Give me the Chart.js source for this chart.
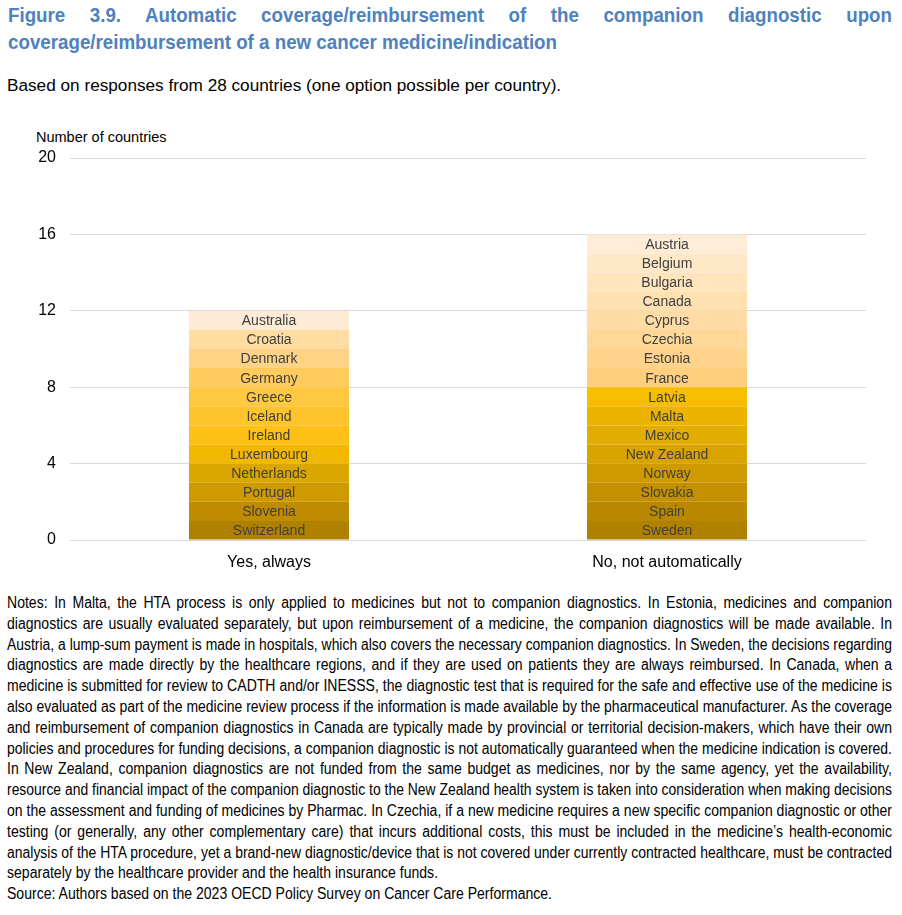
<!DOCTYPE html>
<html>
<head>
<meta charset="utf-8">
<script src="https://cdn.jsdelivr.net/npm/chart.js@4.4.0/dist/chart.umd.min.js"></script>
<style>
  body { margin: 0; background: #fff; width: 902px; height: 915px; position: relative; overflow: hidden; font-family: "Liberation Sans", Arial, sans-serif; }
  #title { position: absolute; left: 8px; top: 1px; color: #4f81bd; font-weight: bold; font-size: 21px; line-height: 27px; }
  #subtitle { position: absolute; left: 7px; top: 75px; font-size: 17.2px; color: #000; }
  #ytitle { position: absolute; left: 36px; top: 129px; font-size: 14.5px; color: #000; }
  #wrap { position: absolute; left: 0; top: 131px; width: 902px; height: 450px; }
  #notes { position: absolute; left: 7px; top: 593px; font-size: 15.6px; line-height: 20.8px; color: #000; }
  .ln { transform-origin: 0 0; white-space: normal; text-align: left; }
  .ln.j { text-align: justify; text-align-last: justify; }
  .probe { position: absolute; visibility: hidden; white-space: nowrap; }
</style>
</head>
<body>
<div id="title"></div>
<div id="subtitle">Based on responses from 28 countries (one option possible per country).</div>
<div id="ytitle">Number of countries</div>
<div id="wrap"><canvas id="chart"></canvas></div>
<div id="notes"></div>
<script>
// categories on the x axis
var categories = ["Yes, always", "No, not automatically"];

// countries per answer, listed bottom to top of the stack
var yesCountries = ["Switzerland", "Slovenia", "Portugal", "Netherlands", "Luxembourg", "Ireland", "Iceland", "Greece", "Germany", "Denmark", "Croatia", "Australia"];
var yesCounts = [1, 1, 1, 1, 1, 1, 1, 1, 1, 1, 1, 1];
var noCountries = ["Sweden", "Spain", "Slovakia", "Norway", "New Zealand", "Mexico", "Malta", "Latvia", "France", "Estonia", "Czechia", "Cyprus", "Canada", "Bulgaria", "Belgium", "Austria"];
var noCounts = [1, 1, 1, 1, 1, 1, 1, 1, 1, 1, 1, 1, 1, 1, 1, 1];

var yTicks = [0, 4, 8, 12, 16, 20];

var yesColors = ["#b08000", "#bf8c00", "#cf9a00", "#dca600", "#f2b800", "#fcc016", "#ffc42c", "#ffc840", "#ffcb5c", "#ffd386", "#ffdca2", "#feebd6"];
var noColors = ["#b08000", "#b98700", "#c49000", "#cf9a00", "#d9a300", "#e3ac00", "#ecb400", "#f7bd00", "#ffcf80", "#ffd38b", "#ffd898", "#ffdca5", "#ffe0b0", "#ffe4bc", "#ffe8c8", "#ffecd6"];

var titleLines = [
  "Figure 3.9. Automatic coverage/reimbursement of the companion diagnostic upon",
  "coverage/reimbursement of a new cancer medicine/indication"
];

var noteLines = [
  "Notes: In Malta, the HTA process is only applied to medicines but not to companion diagnostics. In Estonia, medicines and companion",
  "diagnostics are usually evaluated separately, but upon reimbursement of a medicine, the companion diagnostics will be made available. In",
  "Austria, a lump-sum payment is made in hospitals, which also covers the necessary companion diagnostics. In Sweden, the decisions regarding",
  "diagnostics are made directly by the healthcare regions, and if they are used on patients they are always reimbursed. In Canada, when a",
  "medicine is submitted for review to CADTH and/or INESSS, the diagnostic test that is required for the safe and effective use of the medicine is",
  "also evaluated as part of the medicine review process if the information is made available by the pharmaceutical manufacturer. As the coverage",
  "and reimbursement of companion diagnostics in Canada are typically made by provincial or territorial decision-makers, which have their own",
  "policies and procedures for funding decisions, a companion diagnostic is not automatically guaranteed when the medicine indication is covered.",
  "In New Zealand, companion diagnostics are not funded from the same budget as medicines, nor by the same agency, yet the availability,",
  "resource and financial impact of the companion diagnostic to the New Zealand health system is taken into consideration when making decisions",
  "on the assessment and funding of medicines by Pharmac. In Czechia, if a new medicine requires a new specific companion diagnostic or other",
  "testing (or generally, any other complementary care) that incurs additional costs, this must be included in the medicine\u2019s health-economic",
  "analysis of the HTA procedure, yet a brand-new diagnostic/device that is not covered under currently contracted healthcare, must be contracted",
  "separately by the healthcare provider and the health insurance funds.",
  "Source: Authors based on the 2023 OECD Policy Survey on Cancer Care Performance."
];

// the reference uses a narrow face: squeeze each line so that the
// un-justified line gets its width, justified ones fill the column
function setLines(box, lines, nJustified, boxWidth, refLine, refWidth) {
  var probe = document.createElement("span");
  probe.className = "probe";
  box.appendChild(probe);
  function w(t) { probe.textContent = t; return probe.getBoundingClientRect().width; }
  var s = refWidth / w(lines[refLine]);
  lines.forEach(function (t, i) {
    var d = document.createElement("div");
    d.className = "ln" + (i < nJustified ? " j" : "");
    var sl = s;
    if (i < nJustified) sl = Math.min(s, (boxWidth - 1) / w(t));
    d.style.width = (boxWidth / sl) + "px";
    d.style.transform = "scaleX(" + sl + ")";
    d.textContent = t;
    box.appendChild(d);
  });
  box.removeChild(probe);
}
setLines(document.getElementById("title"), titleLines, 1, 884, 1, 549);
setLines(document.getElementById("notes"), noteLines, 13, 885, 14, 545);

var datasets = [];
yesCountries.forEach(function (c, i) {
  datasets.push({ label: c, data: [yesCounts[i], null], backgroundColor: yesColors[i], stack: "s" });
});
noCountries.forEach(function (c, i) {
  datasets.push({ label: c, data: [null, noCounts[i]], backgroundColor: noColors[i], stack: "s" });
});

var barLabels = {
  id: "barLabels",
  afterDatasetsDraw: function (chart) {
    var ctx = chart.ctx;
    ctx.save();
    ctx.font = "14px 'Liberation Sans', Arial, sans-serif";
    ctx.fillStyle = "#404040";
    ctx.textAlign = "center";
    ctx.textBaseline = "middle";
    chart.data.datasets.forEach(function (ds, i) {
      var meta = chart.getDatasetMeta(i);
      meta.data.forEach(function (bar, j) {
        if (ds.data[j] == null) return;
        ctx.fillText(ds.label, bar.x, (bar.y + bar.base) / 2 + 1);
      });
    });
    ctx.restore();
  }
};

new Chart(document.getElementById("chart").getContext("2d"), {
  type: "bar",
  data: { labels: categories, datasets: datasets },
  plugins: [barLabels],
  options: {
    responsive: true,
    maintainAspectRatio: false,
    animation: false,
    layout: { padding: { top: 27, right: 36, left: 0, bottom: 0 } },
    datasets: { bar: { barPercentage: 0.402, categoryPercentage: 1 } },
    plugins: { legend: { display: false }, tooltip: { enabled: false } },
    scales: {
      x: {
        stacked: true,
        grid: { display: false, drawTicks: false },
        border: { display: false },
        ticks: { color: "#000", font: { family: "'Liberation Sans', Arial, sans-serif", size: 16 }, padding: 13 },
        afterFit: function (s) { s.height = 41; }
      },
      y: {
        stacked: true,
        min: 0,
        max: 20,
        afterBuildTicks: function (s) { s.ticks = yTicks.map(function (v) { return { value: v }; }); },
        grid: { color: "#d9d9d9", drawTicks: false, lineWidth: 1 },
        border: { display: false },
        ticks: { color: "#000", font: { family: "'Liberation Sans', Arial, sans-serif", size: 16 }, padding: 14 },
        afterFit: function (s) { s.width = 70; }
      }
    }
  }
});
</script>
</body>
</html>
